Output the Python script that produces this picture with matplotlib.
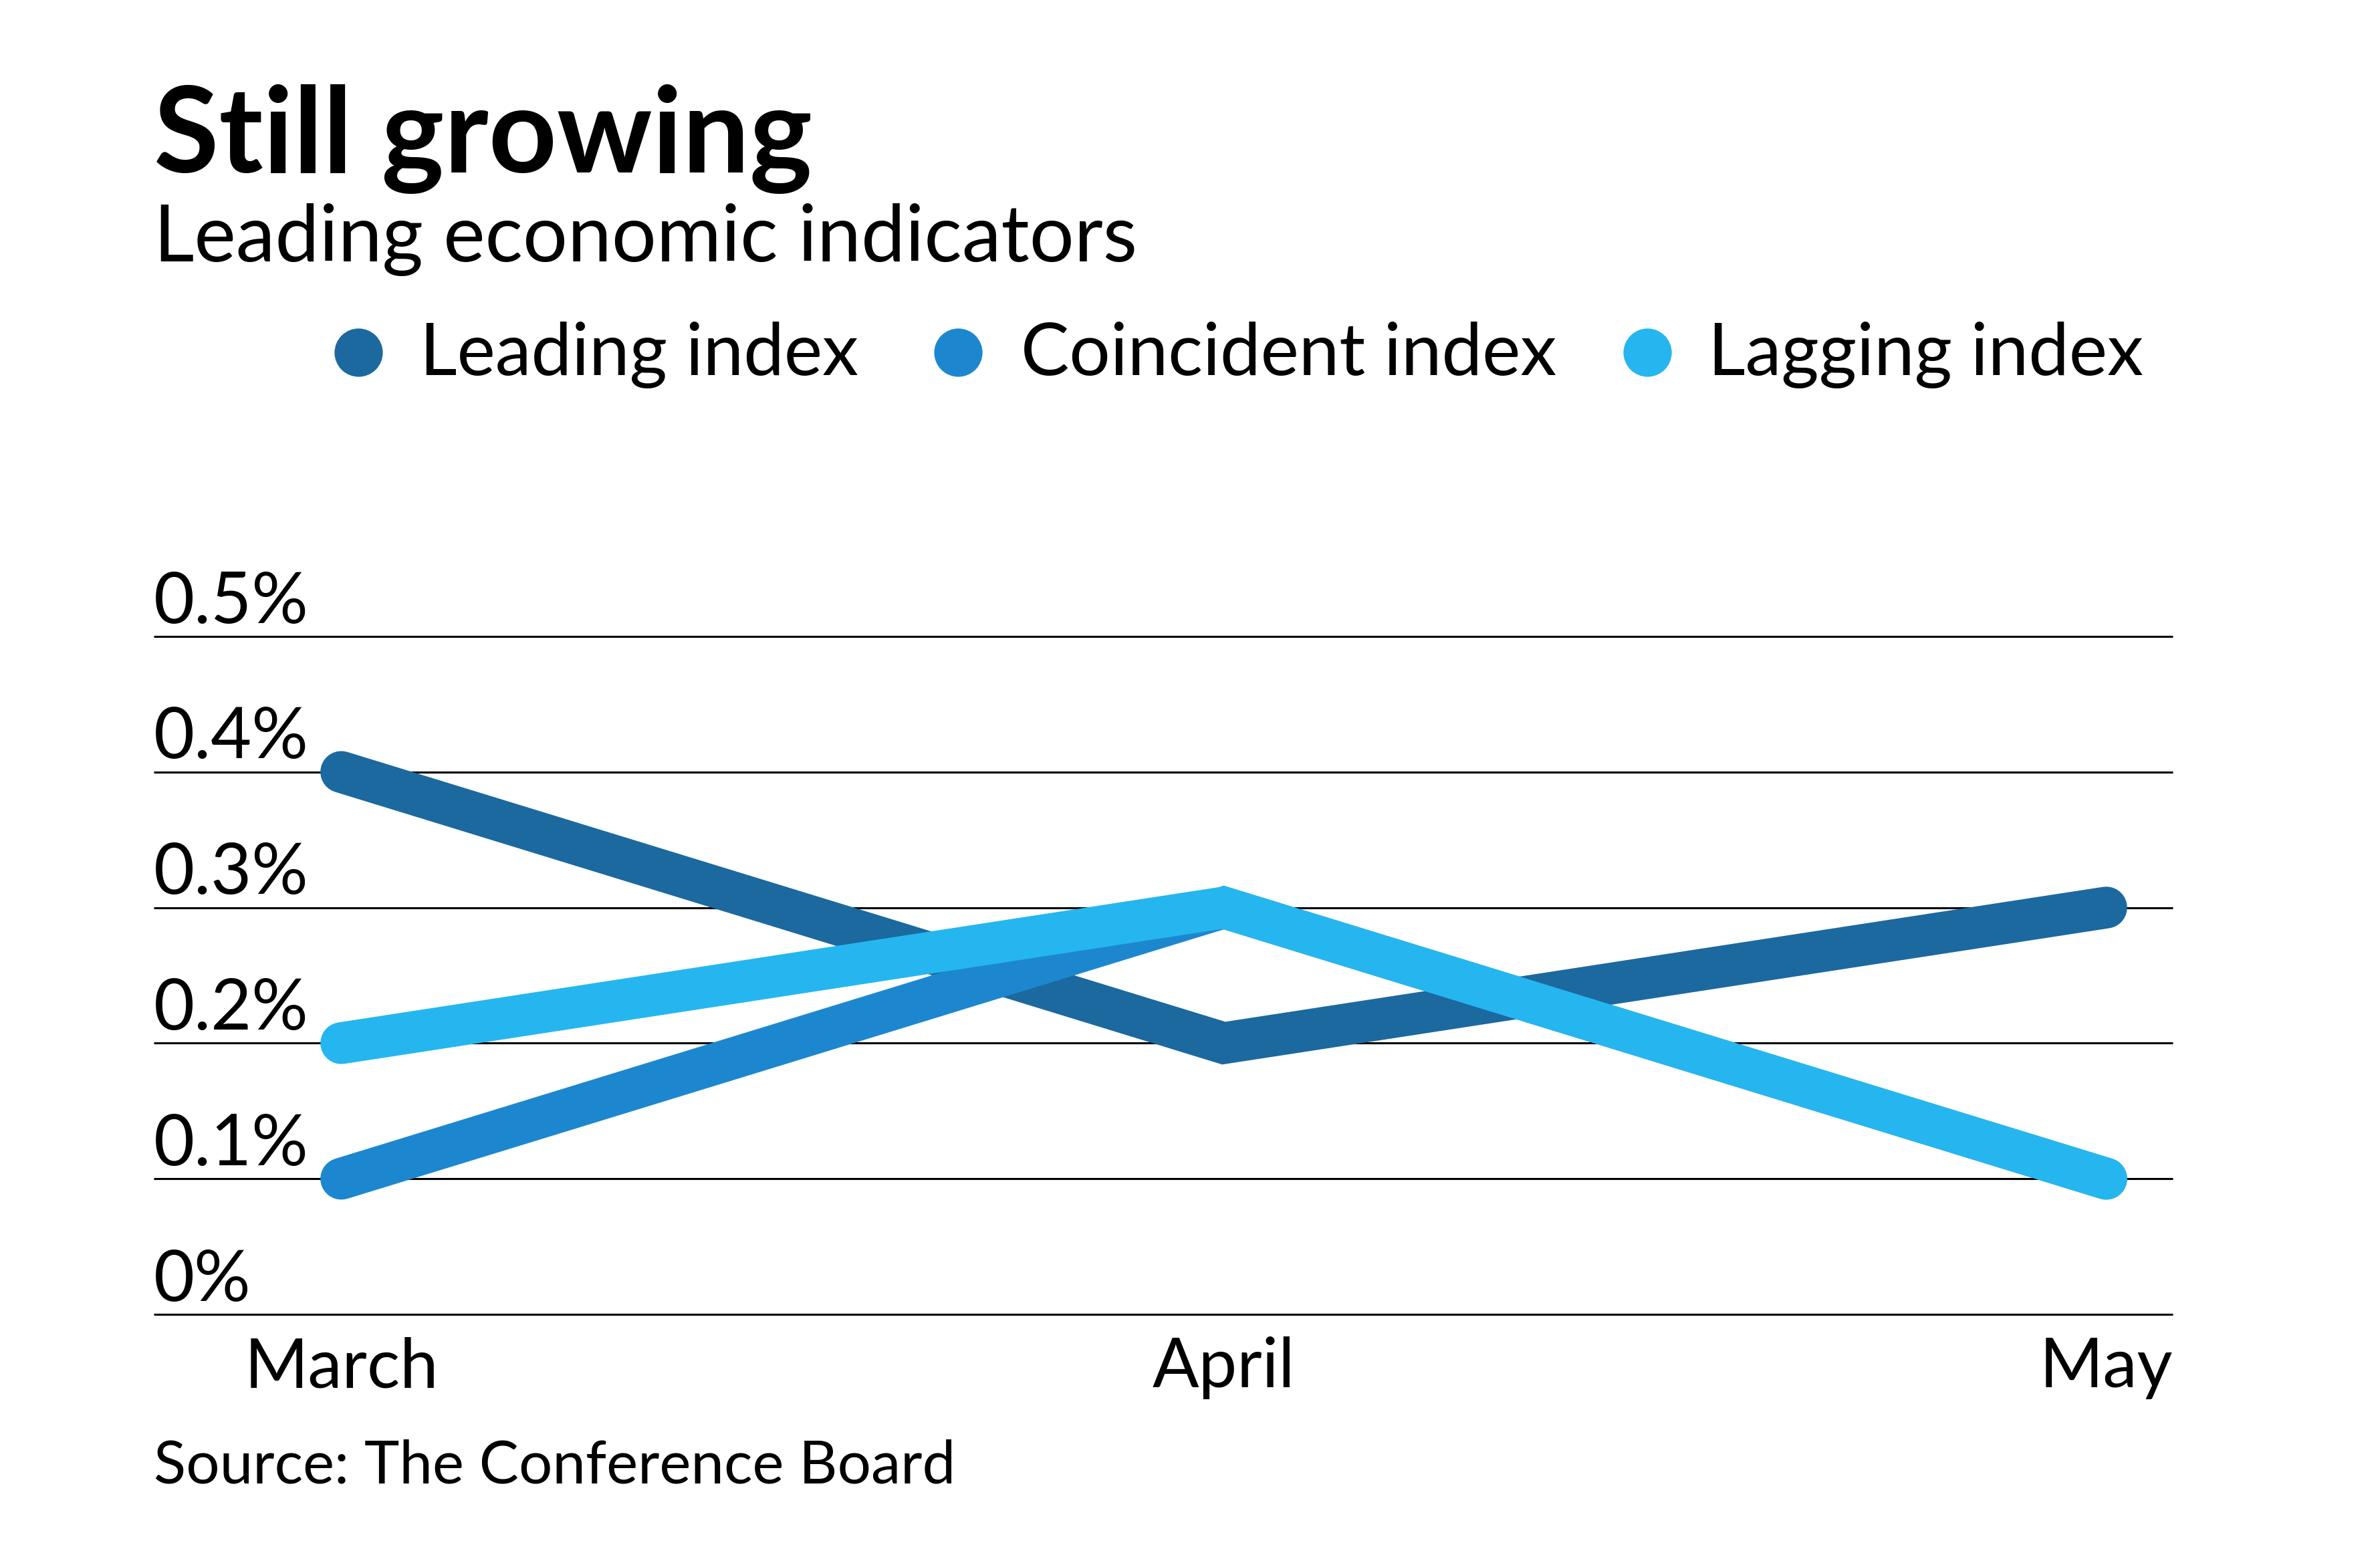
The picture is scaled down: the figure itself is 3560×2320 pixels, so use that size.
import matplotlib
matplotlib.use("Agg")
import matplotlib.pyplot as plt
from matplotlib.lines import Line2D

plt.rcParams['font.family'] = ['Lato', 'DejaVu Sans']

# data
months = ['March', 'April', 'May']
leading = [0.4, 0.2, 0.3]
coincident = [0.1, 0.3, 0.1]
lagging = [0.2, 0.3, 0.1]
series_names = ['Leading index', 'Coincident index', 'Lagging index']
yticks = [0, 0.1, 0.2, 0.3, 0.4, 0.5]
ytick_labels = ['0%', '0.1%', '0.2%', '0.3%', '0.4%', '0.5%']

colors = ['#1b699f', '#1c87cf', '#25b6f0']

fig = plt.figure(figsize=(17.8, 11.6), dpi=200)
ax = fig.add_axes([0.0646, 0.1526, 0.8482, 0.4371])

x = list(range(len(months)))
for i, vals in enumerate([leading, coincident, lagging]):
    ax.plot(x, vals, color=colors[i], lw=22.5, solid_capstyle='round',
            solid_joinstyle='miter', zorder=3 + i, clip_on=False)

ax.set_xlim(-0.2125, 2.075)
ax.set_ylim(0, 0.5)

# gridlines + labels sitting above them
ax.hlines(yticks, 0, 1, transform=ax.get_yaxis_transform(), colors='black',
          lw=1.1, zorder=1, clip_on=False)
for yv, lab in zip(yticks, ytick_labels):
    ax.text(0, yv + 0.01, lab, transform=ax.get_yaxis_transform(),
            ha='left', va='baseline', fontsize=38, color='black')

ax.set_yticks([])
ax.set_xticks(x)
ax.set_xticklabels(months, fontsize=37)
ax.tick_params(axis='x', length=0, pad=12)
for s in ax.spines.values():
    s.set_visible(False)

# title block
fig.text(0.0646, 0.889, 'Still growing', fontsize=64, fontweight='bold',
         ha='left', va='baseline')
fig.text(0.0646, 0.8315, 'Leading economic indicators', fontsize=42.5,
         ha='left', va='baseline')

# legend
leg_marker_x = [0.1505, 0.4025, 0.6922]
leg_text_x = [0.1764, 0.4290, 0.7177]
for i, name in enumerate(series_names):
    fig.add_artist(Line2D([leg_marker_x[i]], [0.773], marker='o', markersize=25,
                          color=colors[i], linestyle='none',
                          transform=fig.transFigure))
    fig.text(leg_text_x[i], 0.758, name, fontsize=39, ha='left', va='baseline')

fig.text(0.0646, 0.0436, 'Source: The Conference Board', fontsize=32,
         ha='left', va='baseline')

fig.savefig('out.png', dpi=200, facecolor='white')
